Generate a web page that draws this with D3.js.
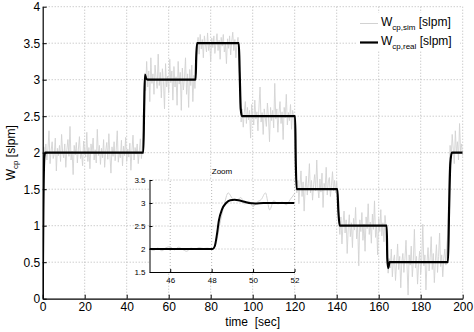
<!DOCTYPE html>
<html>
<head>
<meta charset="utf-8">
<script src="https://cdn.jsdelivr.net/npm/d3@7"></script>
<style>
  html, body { margin: 0; padding: 0; background: #fff; }
  text { font-family: "Liberation Sans", Arial, Helvetica, sans-serif; fill: #000; }
</style>
</head>
<body>
<svg id="chart" width="474" height="332"></svg>
<script>
// ---------------- data ----------------
const xTicks = [0, 20, 40, 60, 80, 100, 120, 140, 160, 180, 200];
const yTicks = [0, 0.5, 1, 1.5, 2, 2.5, 3, 3.5, 4];
const insetXTicks = [46, 48, 50, 52];
const insetYTicks = [1.5, 2, 2.5, 3, 3.5];

// real (measured) flow: breakpoints
const realT = [0, 0.3, 0.8, 1.2, 47.9, 48.3, 48.7, 49.2, 50, 72.8, 73.1, 73.5, 93.4, 93.8, 94.3, 94.9,
  120.2, 120.5, 120.9, 140.3, 140.8, 141.4, 163.8, 164.1, 164.5, 165.2, 193.0, 193.5, 194.1, 194.8, 200];
const realV = [0, 1.2, 1.95, 2.0, 2.0, 2.6, 3.07, 3.02, 3.0, 3.0, 3.3, 3.5, 3.5, 3.1, 2.6, 2.5,
  2.5, 1.9, 1.5, 1.5, 1.2, 1.0, 1.0, 0.55, 0.42, 0.5, 0.5, 1.2, 1.85, 2.0, 2.0];

// simulated flow, sampled every 0.5 s from t = 0
const simStart = 0, simStep = 0.5;
const simValues = [
  0, 2.08, 1.95, 2.12, 1.9, 2.05, 2.3, 1.85, 2.02, 2.15, 1.92, 1.98, 2.2, 1.75, 2.06, 1.96, 2.1, 1.88, 2.25, 2.0,
  1.93, 2.12, 1.8, 2.04, 2.18, 1.95, 2.36, 1.9, 2.02, 1.7, 2.1, 1.97, 2.14, 1.86, 2.05, 2.22, 1.92, 2.0, 1.82, 2.16,
  2.03, 1.94, 2.28, 1.88, 2.07, 1.78, 2.12, 1.99, 2.2, 1.9, 2.04, 1.86, 2.32, 1.96, 2.1, 1.84, 2.06, 1.93, 2.18, 1.8,
  2.02, 2.14, 1.91, 2.26, 1.97, 1.72, 2.08, 1.95, 2.15, 1.89, 2.04, 2.3, 1.87, 2.01, 1.93, 2.17, 1.82, 2.09, 1.96, 2.21,
  1.88, 2.05, 1.94, 2.13, 1.76, 2.03, 2.24, 1.9, 2.07, 1.98, 2.12, 1.85, 2.02, 2.19, 1.92, 2.06,
  2.3, 3.05, 2.85, 3.25, 2.9, 3.12, 2.7, 3.3, 2.95, 3.08, 2.8, 3.2, 3.02, 2.88, 3.35, 2.92, 3.1, 2.75, 3.15, 2.98,
  2.6, 3.22, 2.9, 3.05, 2.82, 3.28, 2.96, 3.12, 2.72, 3.18, 2.9, 3.04, 2.65, 3.25, 2.94, 3.1, 2.58, 3.16, 2.86, 3.02,
  3.3, 2.8, 3.08, 2.62, 3.14, 2.92, 3.2, 2.7, 3.06, 2.88,
  3.2, 3.45, 3.58, 3.35, 3.62, 3.42, 3.55, 3.3, 3.6, 3.48, 3.38, 3.64, 3.4, 3.52, 3.25, 3.57, 3.44, 3.6, 3.36, 3.5,
  3.63, 3.4, 3.54, 3.28, 3.58, 3.46, 3.62, 3.38, 3.5, 3.22, 3.56, 3.43, 3.6, 3.34, 3.52, 3.65, 3.4, 3.55, 3.3, 3.48, 3.58,
  3.3, 2.75, 2.42, 2.6, 2.35, 2.55, 2.7, 2.4, 2.62, 2.45, 2.58, 2.2, 2.66, 2.5, 2.38, 2.72, 2.46, 2.56, 2.3, 2.64,
  2.9, 2.42, 2.55, 2.25, 2.6, 2.48, 2.36, 2.68, 2.5, 2.15, 2.62, 2.44, 2.58, 2.34, 2.95, 2.46, 2.6, 2.28, 2.54, 2.7,
  2.4, 2.56, 2.18, 2.62, 2.48, 2.8, 2.38, 2.55, 2.44, 2.66, 2.32, 2.58, 2.5,
  2.2, 1.7, 1.45, 1.62, 1.3, 1.55, 1.75, 1.4, 1.6, 1.2, 1.52, 1.68, 1.42, 1.58, 1.85, 1.45, 1.62, 1.35, 1.56, 1.7,
  1.48, 1.9, 1.52, 1.38, 1.64, 1.46, 1.72, 1.25, 1.58, 1.5, 1.8, 1.42, 1.6, 1.66, 1.4, 1.55, 1.74, 1.48, 1.62, 1.45, 1.6,
  1.35, 1.05, 0.88, 1.12, 0.75, 1.02, 1.2, 0.9, 1.08, 0.62, 0.98, 1.15, 0.85, 1.04, 0.7, 1.1, 0.94, 1.25, 0.82, 1.0,
  0.45, 1.08, 0.92, 1.18, 0.8, 1.02, 0.65, 1.12, 0.96, 1.3, 0.88, 1.05, 0.76, 1.16, 0.95, 1.34, 0.84, 1.0, 0.6, 1.1,
  0.92, 1.22, 0.86, 1.04, 0.78, 1.14, 0.98,
  0.7, 0.35, 0.55, 0.42, 0.68, 0.3, 0.52, 0.6, 0.25, 0.48, 0.75, 0.4, 0.58, 0.15, 0.5, 0.62, 0.36, 0.55, 0.8, 0.44,
  0.05, 0.6, 0.46, 0.72, 0.3, 0.52, 0.95, 0.42, 0.58, 0.2, 0.48, 0.65, 0.34, 0.54, 1.02, 0.45, 0.6, 0.12, 0.5, 0.7,
  0.38, 0.56, 0.85, 0.4, 0.62, 0.22, 0.52, 0.74, 0.36, 0.58, 0.9, 0.44, 0.6, 0.3, 0.55, 0.68, 0.46, 0.75,
  0.9, 1.7, 2.1, 1.92, 2.25, 2.05, 1.85, 2.3, 2.0, 2.15, 1.9, 2.4, 2.02, 2.12, 1.95
];

// inset (zoom) data
const insetRealT = [45, 48.05, 48.15, 48.25, 48.35, 48.5, 48.7, 48.9, 49.1, 49.4, 49.8, 50.1, 50.5, 52];
const insetRealV = [2, 2, 2.06, 2.3, 2.62, 2.86, 3.0, 3.06, 3.07, 3.05, 3.0, 2.99, 3.0, 3.0];
const insetSimT = [45, 45.2, 45.4, 45.6, 45.8, 46, 46.2, 46.4, 46.6, 46.8, 47, 47.2, 47.4, 47.6, 47.8, 48,
  48.2, 48.4, 48.6, 48.8, 49, 49.2, 49.4, 49.6, 49.8, 50, 50.2, 50.4, 50.6, 50.8, 51, 51.2, 51.4, 51.6, 51.8, 52];
const insetSimV = [2.0, 1.97, 2.02, 1.96, 2.03, 2.05, 1.98, 2.04, 1.99, 1.95, 2.02, 2.0, 2.03, 2.01, 2.02, 2.0,
  2.1, 2.55, 2.95, 3.22, 3.1, 3.05, 3.12, 2.98, 3.04, 2.92, 3.02, 3.08, 3.22, 2.85, 3.05, 2.98, 3.02, 2.96, 3.08, 3.2];

// ---------------- drawing ----------------
const svg = d3.select("#chart");
const gridColor = "#b8b8b8";
const simColor = "#d2d2d2";

const X0 = 42.7, X1 = 462.7, Y0 = 298.7, Y1 = 6.7;
const x = d3.scaleLinear().domain([0, 200]).range([X0, X1]);
const y = d3.scaleLinear().domain([0, 4]).range([Y0, Y1]);

svg.append("defs").append("clipPath").attr("id", "clipMain")
  .append("rect").attr("x", X0).attr("y", Y1).attr("width", X1 - X0).attr("height", Y0 - Y1);

// grid
const grid = svg.append("g");
grid.selectAll("line.gx").data(xTicks.filter(d => d > 0)).join("line")
  .attr("x1", d => x(d)).attr("x2", d => x(d)).attr("y1", Y0).attr("y2", Y1)
  .attr("stroke", gridColor).attr("stroke-width", 1).attr("stroke-dasharray", "1,2");
grid.selectAll("line.gy").data(yTicks.filter(d => d > 0)).join("line")
  .attr("y1", d => y(d)).attr("y2", d => y(d)).attr("x1", X0).attr("x2", X1)
  .attr("stroke", gridColor).attr("stroke-width", 1).attr("stroke-dasharray", "1,2");

// series
const simData = simValues.map((v, i) => [simStart + i * simStep, v]);
const realData = realT.map((t, i) => [t, realV[i]]);
const line = d3.line().x(d => x(d[0])).y(d => y(d[1]));
const dataG = svg.append("g").attr("clip-path", "url(#clipMain)");
dataG.append("path").datum(simData).attr("d", line)
  .attr("fill", "none").attr("stroke", simColor).attr("stroke-width", 0.9);
dataG.append("path").datum(realData).attr("d", line.curve(d3.curveMonotoneX))
  .attr("fill", "none").attr("stroke", "#000").attr("stroke-width", 2.2).attr("stroke-linejoin", "round");

// main axes
const xAxis = d3.axisBottom(x).tickValues(xTicks).tickSizeInner(-4).tickSizeOuter(0).tickPadding(8);
const yAxis = d3.axisLeft(y).tickValues(yTicks).tickSizeInner(-4).tickSizeOuter(0).tickPadding(6)
  .tickFormat(d3.format("~g"));
const gx = svg.append("g").attr("transform", `translate(0,${Y0})`).call(xAxis);
const gy = svg.append("g").attr("transform", `translate(${X0},0)`).call(yAxis);
[gx, gy].forEach(g => {
  g.select(".domain").attr("stroke", "#000").attr("stroke-width", 1.2);
  g.selectAll(".tick line").attr("stroke", "#000");
  g.selectAll("text").attr("font-size", 12).attr("font-family", "Liberation Sans, Arial, sans-serif");
});
gx.selectAll("text").attr("dy", "0.71em").attr("y", 4);
gy.selectAll("text").attr("x", -2.5);

// axis labels
svg.append("text").attr("x", (X0 + X1) / 2).attr("y", 325.5).attr("text-anchor", "middle")
  .attr("font-size", 12).attr("xml:space", "preserve").text("time  [sec]");
const yl = svg.append("text").attr("transform", `translate(15,${(Y0 + Y1) / 2}) rotate(-90)`)
  .attr("text-anchor", "middle").attr("font-size", 12);
yl.append("tspan").text("W");
yl.append("tspan").attr("font-size", 8).attr("dy", 3).text("cp");
yl.append("tspan").attr("dy", -3).text(" [slpm]");

// ---------------- inset ----------------
const IX0 = 149.5, IX1 = 294.5, IY0 = 272, IY1 = 180;
const ix = d3.scaleLinear().domain([45, 52]).range([IX0, IX1]);
const iy = d3.scaleLinear().domain([1.5, 3.5]).range([IY0, IY1]);
svg.append("clipPath").attr("id", "clipInset")
  .append("rect").attr("x", IX0).attr("y", IY1).attr("width", IX1 - IX0).attr("height", IY0 - IY1);
const inset = svg.append("g");
inset.append("rect").attr("x", IX0).attr("y", IY1).attr("width", IX1 - IX0).attr("height", IY0 - IY1)
  .attr("fill", "#fff");
inset.selectAll("line.igx").data(insetXTicks).join("line")
  .attr("x1", d => ix(d)).attr("x2", d => ix(d)).attr("y1", IY0).attr("y2", IY1)
  .attr("stroke", gridColor).attr("stroke-dasharray", "1,2");
inset.selectAll("line.igy").data(insetYTicks.filter(d => d > 1.5)).join("line")
  .attr("y1", d => iy(d)).attr("y2", d => iy(d)).attr("x1", IX0).attr("x2", IX1)
  .attr("stroke", gridColor).attr("stroke-dasharray", "1,2");
const iline = d3.line().x(d => ix(d[0])).y(d => iy(d[1])).curve(d3.curveMonotoneX);
const idata = inset.append("g").attr("clip-path", "url(#clipInset)");
idata.append("path").datum(insetSimT.map((t, i) => [t, insetSimV[i]])).attr("d", iline)
  .attr("fill", "none").attr("stroke", simColor).attr("stroke-width", 1);
idata.append("path").datum(insetRealT.map((t, i) => [t, insetRealV[i]])).attr("d", iline)
  .attr("fill", "none").attr("stroke", "#000").attr("stroke-width", 2);
const igx = inset.append("g").attr("transform", `translate(0,${IY0})`)
  .call(d3.axisBottom(ix).tickValues(insetXTicks).tickSizeInner(-3).tickSizeOuter(0).tickPadding(5)
    .tickFormat(d3.format("~g")));
const igy = inset.append("g").attr("transform", `translate(${IX0},0)`)
  .call(d3.axisLeft(iy).tickValues(insetYTicks).tickSizeInner(-3).tickSizeOuter(0).tickPadding(4)
    .tickFormat(d3.format("~g")));
[igx, igy].forEach(g => {
  g.select(".domain").attr("stroke", "#000");
  g.selectAll(".tick line").attr("stroke", "#000");
  g.selectAll("text").attr("font-size", 8).attr("font-family", "Liberation Sans, Arial, sans-serif");
});
inset.append("text").attr("x", (IX0 + IX1) / 2).attr("y", 174).attr("text-anchor", "middle")
  .attr("font-size", 8).text("Zoom");

// ---------------- legend ----------------
const leg = svg.append("g");
leg.append("rect").attr("x", 356).attr("y", 13).attr("width", 104).attr("height", 38).attr("fill", "#fff");
const legendItems = [
  { sub: "cp,sim", color: simColor, width: 1, ly: 23.5, ty: 26 },
  { sub: "cp,real", color: "#000", width: 2.2, ly: 42.5, ty: 45 }
];
legendItems.forEach(it => {
  leg.append("line").attr("x1", 360).attr("x2", 378).attr("y1", it.ly).attr("y2", it.ly)
    .attr("stroke", it.color).attr("stroke-width", it.width);
  const t = leg.append("text").attr("x", 381).attr("y", it.ty).attr("font-size", 12);
  t.append("tspan").text("W");
  t.append("tspan").attr("font-size", 8).attr("dy", 4).text(it.sub);
  t.append("tspan").attr("dy", -4).text(" [slpm]");
});
</script>
</body>
</html>
